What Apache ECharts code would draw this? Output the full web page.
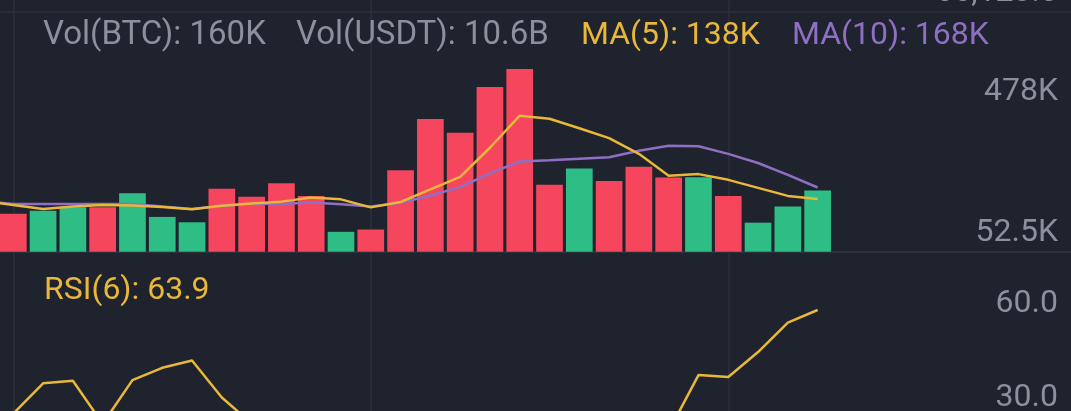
<!DOCTYPE html>
<html><head><meta charset="utf-8">
<script src="https://cdn.jsdelivr.net/npm/echarts@6/dist/echarts.min.js"></script>
<style>html,body{margin:0;padding:0;background:#1f232e;}#c{width:1071px;height:411px;}</style>
</head><body><div id="c"></div>
<script>
// ---- data ----
const barIndex = [0,1,2,3,4,5,6,7,8,9,10,11,12,13,14,15,16,17,18,19,20,21,22,23,24,25,26,27];
const volumeK = [99,107,116,116,153,91,77,165,144,179,146,52,58,213,347,311,431,478,175,218,185,222,194,195,146,76,118,160];
const candleDir = ['down','up','up','down','up','up','up','down','down','down','down','up','down','down','down','down','down','down','down','up','down','down','down','up','down','up','up','up'];
const lineIndex = [-1,0,1,2,3,4,5,6,7,8,9,10,11,12,13,14,15,16,17,18,19,20,21,22,23,24,25,26,27];
const ma5K = [133,122,112,118,122,121,117,111,120,126,131,142,137,116,130,163,196,272,356,348,323,297,256,199,203,188,167,146,138];
const ma10K = [132,125,125,125,125,125,118,112,120,125,125,129,124,118,128,147,169,205,236,239,243,247,264,277,276,256,232,201,168];
const rsi6 = [25,31.1,40.7,41.5,27.9,41.7,45.6,47.9,36.2,28.0,24,21,25,23,17,11,13,8,6,12,18,15,14,25.5,43.3,42.7,50.6,59.9,63.9];
const volTickLabels = ['478K','52.5K'];
const rsiTickLabels = ['60.0','30.0'];
const priceTickLabel = '66,123.0';
const legendVol = ['Vol(BTC): 160K','Vol(USDT): 10.6B'];
const legendMA = ['MA(5): 138K','MA(10): 168K'];
const legendRSI = 'RSI(6): 63.9';

// ---- style ----
const BG = '#1f232e', GRIDC = '#2b303a', GRAY = '#8b919c';
const RED = '#f6465d', GREEN = '#2ebd85', YEL = '#e9b73a', PUR = '#8e6fc4';
const FONT = 'Roboto';
const FS = 32;

const chart = echarts.init(document.getElementById('c'), null, {renderer:'canvas'});
const xMin = -0.4465, xMax = 35.505;
function txt(x, y, s, color, align, fs){
  return {type:'text', x:x, y:y, z:10, style:{text:s, fill:color, font:'400 '+(fs||FS)+'px '+FONT, textAlign:align||'left', textVerticalAlign:'middle'}};
}
const option = {
  backgroundColor: BG,
  animation: false,
  grid: [
    {left:13.3, top:0, width:715, height:411},
    {left:0, right:0, top:60.6, height:191.1},
    {left:0, right:0, top:259.1, height:151.7}
  ],
  xAxis: [
    {gridIndex:0, type:'value', min:0, max:24, interval:12, axisLine:{show:false}, axisTick:{show:false}, axisLabel:{show:false}, splitLine:{show:true, lineStyle:{color:GRIDC, width:1.5}}},
    {gridIndex:1, type:'value', min:xMin, max:xMax, axisLine:{show:true, onZero:false, lineStyle:{color:GRIDC, width:2}}, axisTick:{show:false}, axisLabel:{show:false}, splitLine:{show:false}},
    {gridIndex:2, type:'value', min:xMin, max:xMax, axisLine:{show:false}, axisTick:{show:false}, axisLabel:{show:false}, splitLine:{show:false}}
  ],
  yAxis: [
    {gridIndex:0, type:'value', min:0, max:1, show:false},
    {gridIndex:1, type:'value', min:0, max:500, show:false},
    {gridIndex:2, type:'value', min:32, max:80, show:false}
  ],
  graphic: [
    {type:'line', z:0, shape:{x1:0, y1:12, x2:1071, y2:12}, style:{stroke:GRIDC, lineWidth:1.5}},
    txt(1058, -7, priceTickLabel, GRAY, 'right'),
    txt(43, 36, legendVol[0], GRAY, 'left', 33),
    txt(296, 36, legendVol[1], GRAY, 'left', 33),
    txt(581, 36, legendMA[0], YEL),
    txt(792, 36, legendMA[1], PUR),
    txt(1058, 92, volTickLabels[0], GRAY, 'right'),
    txt(1058, 233, volTickLabels[1], GRAY, 'right'),
    txt(44, 291, legendRSI, YEL),
    txt(1058, 304, rsiTickLabels[0], GRAY, 'right'),
    txt(1058, 398, rsiTickLabels[1], GRAY, 'right')
  ],
  series: [
    {type:'bar', xAxisIndex:1, yAxisIndex:1, barWidth:26.7, z:2,
      data: volumeK.map((v,i)=>({value:[barIndex[i], v], itemStyle:{color: candleDir[i]==='up'?GREEN:RED}}))},
    {type:'line', xAxisIndex:1, yAxisIndex:1, symbol:'none', z:4, lineStyle:{color:PUR, width:2.5},
      data: ma10K.map((v,i)=>[lineIndex[i], v])},
    {type:'line', xAxisIndex:1, yAxisIndex:1, symbol:'none', z:5, lineStyle:{color:YEL, width:2.5},
      data: ma5K.map((v,i)=>[lineIndex[i], v])},
    {type:'line', xAxisIndex:2, yAxisIndex:2, symbol:'none', z:5, lineStyle:{color:YEL, width:2.5},
      data: rsi6.map((v,i)=>[lineIndex[i], v])}
  ]
};
chart.setOption(option);
</script></body></html>
